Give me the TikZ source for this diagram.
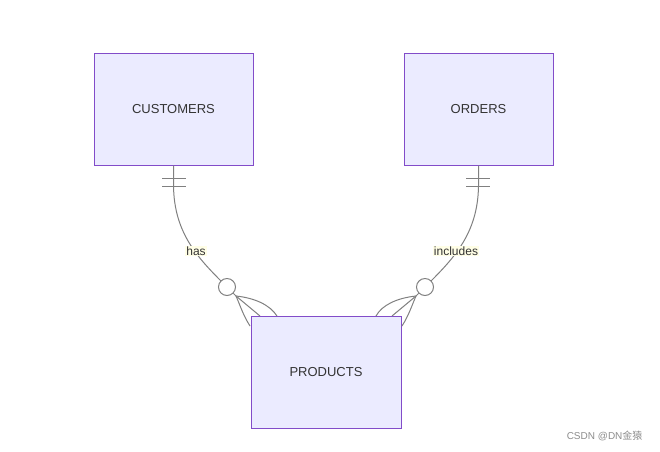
\documentclass[tikz,border=0pt]{standalone}
\usepackage{fontspec}
\setmainfont{Liberation Sans}
\newfontfamily\cjk{Noto Sans CJK SC}
\begin{document}
\begin{tikzpicture}[x=1pt,y=-1pt,
  ent/.style={draw=violet!60!blue!70!white, line width=1pt, fill=blue!8, minimum width=159pt, minimum height=112pt, inner sep=0pt, font=\fontsize{13}{15}\selectfont, text=black!80},
  rel/.style={draw=black!50, line width=1pt},
  lbl/.style={fill=yellow!10, inner sep=1pt, font=\fontsize{12}{14}\selectfont, text=black!80}]
\useasboundingbox (0,0) rectangle (660,451);
\node[ent] (cu) at (173.5,109) {CUSTOMERS};
\node[ent, minimum width=149pt] (or) at (478.5,109) {ORDERS};
\node[ent, minimum width=150pt] (pr) at (326,372) {PRODUCTS};
% left relation
\coordinate (lc) at (227,287);
\draw[rel] (cu.south) -- ++(0,20) .. controls (174,235) and (200,260) .. (lc);
\draw[rel] (162,178) -- (186,178) (162,186) -- (186,186);
\node[rel, circle, minimum size=17pt, inner sep=0pt, fill=white] (lcirc) at (lc) {};
\coordinate (lf) at (236,296);
\draw[rel] (lcirc.south east) -- (lf);
\draw[rel] (lf) .. controls (240,305) and (243,315) .. (250,326);
\draw[rel] (lf) -- (260,316);
\draw[rel] (lf) .. controls (255,298) and (270,305) .. (277,316);
\node[lbl] (has) at (196,251) {has};
% right relation
\coordinate (rc) at (425,287);
\draw[rel] (or.south) -- ++(0,20) .. controls (478,235) and (452,260) .. (rc);
\draw[rel] (466,178) -- (490,178) (466,186) -- (490,186);
\node[rel, circle, minimum size=17pt, inner sep=0pt, fill=white] (rcirc) at (rc) {};
\coordinate (rf) at (416,296);
\draw[rel] (rcirc.south west) -- (rf);
\draw[rel] (rf) .. controls (412,305) and (409,315) .. (402,326);
\draw[rel] (rf) -- (392,316);
\draw[rel] (rf) .. controls (397,298) and (382,305) .. (376,316);
\node[lbl] (inc) at (456,251) {includes};
\node[text=black!45, font=\fontsize{10}{12}\selectfont, anchor=east] (wm) at (646,436) {CSDN @DN{\cjk 金猿}};
\end{tikzpicture}
\end{document}
